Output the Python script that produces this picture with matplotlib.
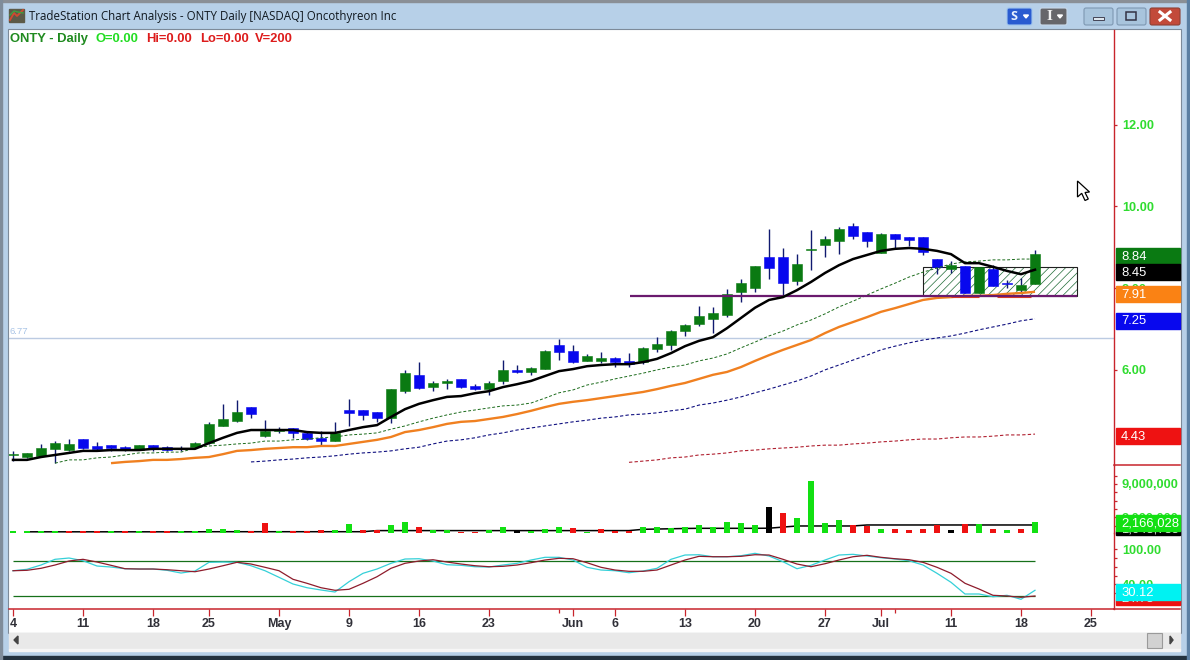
import numpy as np
import matplotlib
matplotlib.use("Agg")
import matplotlib.pyplot as plt
from matplotlib.patches import Rectangle, FancyBboxPatch, Polygon

opens = [3.92,3.87,3.90,4.07,4.04,4.31,4.14,4.16,4.11,4.04,4.16,4.11,4.07,4.11,4.21,4.63,4.75,5.09,4.38,4.51,
         4.58,4.46,4.34,4.26,5.02,5.02,4.97,4.82,5.48,5.88,5.58,5.68,5.78,5.61,5.53,5.73,6.00,5.95,6.02,6.61,
         6.46,6.22,6.22,6.29,6.22,6.19,6.51,6.61,6.95,7.12,7.25,7.34,7.90,8.00,8.76,8.76,8.17,8.92,9.05,9.15,
         9.52,9.37,8.86,9.32,9.25,9.25,8.71,8.47,8.54,7.88,8.47,8.12,7.95,8.10]
highs = [4.02,3.97,4.19,4.26,4.31,4.31,4.24,4.16,4.13,4.16,4.16,4.13,4.14,4.24,4.73,5.17,5.26,5.09,4.77,4.60,
         4.58,4.51,4.51,4.73,5.29,5.02,4.97,5.53,6.00,6.19,5.73,5.78,5.78,5.65,5.73,6.24,6.12,6.07,6.49,6.76,
         6.61,6.39,6.44,6.31,6.41,6.56,6.80,6.98,7.12,7.57,7.54,7.98,8.22,8.54,9.45,8.98,8.83,9.42,9.27,9.49,
         9.59,9.37,9.34,9.32,9.25,9.25,8.71,8.66,8.54,8.52,8.56,8.20,8.25,8.93]
lows = [3.77,3.85,3.87,3.73,4.02,4.07,4.02,4.02,4.02,4.03,4.02,4.02,4.02,4.09,4.19,4.63,4.73,4.82,4.36,4.46,
        4.34,4.29,4.16,4.26,4.63,4.77,4.73,4.70,5.44,5.53,5.48,5.53,5.56,5.51,5.39,5.65,5.92,5.88,6.02,6.24,
        6.17,6.22,6.17,6.07,6.07,6.14,6.44,6.49,6.83,7.08,6.90,7.29,7.66,7.90,8.22,7.81,8.07,8.44,8.76,8.83,
        9.20,9.00,8.85,8.98,9.03,8.81,8.34,8.37,7.88,7.88,8.05,8.00,7.90,8.10]
closes = [3.94,3.97,4.10,4.21,4.19,4.09,4.07,4.09,4.04,4.16,4.07,4.04,4.06,4.21,4.68,4.80,4.97,4.92,4.51,4.53,
          4.46,4.31,4.26,4.46,4.95,4.90,4.82,5.53,5.92,5.56,5.68,5.73,5.58,5.53,5.68,6.00,5.95,6.05,6.46,6.44,
          6.19,6.34,6.29,6.19,6.14,6.54,6.63,6.95,7.10,7.32,7.39,7.86,8.12,8.54,8.49,8.12,8.59,8.95,9.20,9.44,
          9.27,9.15,9.32,9.20,9.17,8.88,8.52,8.56,7.88,8.52,8.05,8.10,8.07,8.84]

ma_black = [3.80,3.80,3.87,3.92,3.97,4.02,4.02,4.04,4.04,4.04,4.07,4.07,4.07,4.07,4.21,4.34,4.46,4.53,4.53,4.53,
            4.53,4.48,4.46,4.46,4.53,4.60,4.65,4.85,5.04,5.17,5.26,5.34,5.36,5.43,5.48,5.58,5.65,5.73,5.85,5.97,
            6.02,6.09,6.12,6.14,6.14,6.19,6.27,6.41,6.58,6.71,6.80,7.02,7.27,7.52,7.71,7.78,7.95,8.15,8.37,8.56,
            8.71,8.81,8.91,8.96,8.98,8.96,8.91,8.83,8.61,8.61,8.52,8.42,8.34,8.45]
ma_green_start = 3
ma_green = [3.72,3.80,3.80,3.85,3.87,3.92,3.97,3.97,3.99,3.99,4.09,4.14,4.16,4.19,4.21,4.26,4.26,4.29,4.31,4.34,
            4.36,4.41,4.43,4.46,4.55,4.63,4.73,4.82,4.90,4.97,5.02,5.07,5.12,5.14,5.19,5.31,5.44,5.51,5.63,5.70,
            5.78,5.85,5.92,6.00,6.07,6.12,6.22,6.29,6.39,6.54,6.68,6.83,6.95,7.10,7.22,7.37,7.54,7.68,7.83,7.98,
            8.12,8.27,8.39,8.49,8.59,8.64,8.66,8.69,8.69,8.71,8.71]
ma_orange_start = 7
ma_orange = [3.72,3.75,3.77,3.80,3.80,3.82,3.85,3.87,3.94,4.02,4.04,4.07,4.09,4.11,4.11,4.14,4.14,4.19,4.24,4.29,
             4.36,4.48,4.53,4.60,4.68,4.73,4.75,4.80,4.85,4.92,5.00,5.09,5.17,5.22,5.26,5.31,5.36,5.41,5.46,5.53,
             5.61,5.68,5.78,5.88,5.95,6.07,6.22,6.36,6.49,6.61,6.73,6.90,7.05,7.17,7.29,7.42,7.51,7.61,7.71,7.76,
             7.78,7.81,7.81,7.83,7.86,7.88,7.91]
ma_blue_start = 17
ma_blue = [3.75,3.77,3.80,3.82,3.85,3.87,3.90,3.94,3.97,3.99,4.02,4.07,4.11,4.19,4.26,4.29,4.34,4.41,4.46,4.53,
           4.58,4.63,4.68,4.73,4.77,4.82,4.85,4.90,4.92,4.95,5.00,5.04,5.14,5.19,5.26,5.34,5.44,5.53,5.63,5.73,
           5.85,6.00,6.12,6.24,6.36,6.49,6.58,6.66,6.73,6.78,6.83,6.90,6.98,7.05,7.12,7.20,7.25]
ma_red_start = 44
ma_red = [3.74,3.77,3.80,3.85,3.87,3.92,3.94,3.97,4.02,4.04,4.07,4.09,4.11,4.14,4.16,4.16,4.19,4.21,4.24,4.26,
          4.29,4.31,4.31,4.34,4.36,4.36,4.38,4.41,4.41,4.43]

volume_m = [0.60,0.50,0.55,0.55,0.46,0.46,0.46,0.46,0.46,0.46,0.46,0.46,0.46,0.46,0.96,0.96,0.73,0.60,2.04,0.60,
            0.55,0.55,0.73,0.73,1.81,0.73,0.64,1.63,2.17,1.24,0.67,0.67,0.37,0.37,0.67,1.24,0.67,0.60,0.91,1.21,
            1.09,0.32,0.85,0.55,0.55,1.27,1.27,1.09,1.27,1.63,1.27,2.17,1.99,1.63,4.87,3.84,2.89,9.60,2.04,2.44,
            1.63,1.50,0.91,0.91,0.73,0.91,1.63,0.73,1.81,1.81,0.91,0.73,0.91,2.166]
volume_kind = "GGGGRRRGRGRRGGGGGRRGRRRGGRRGGRGGRRGGKGGGRGRRRGGGGGGGGGKRGGGGRRGRRRRKRGRGRG"
vol_ma_start = 1
vol_ma = [0.40]*13 + [0.42]*12 + [0.62]*19 + [0.85,0.90,0.95,1.00,1.03,1.03,1.03,1.03,1.03,1.05,1.25] + [1.45]*5 + [1.63]*13

stoch_k = [63.4,65.8,73.1,82.8,85.0,80.4,71.4,69.7,66.8,66.3,66.3,64.1,59.5,62.9,77.7,78.2,77.7,71.9,63.4,52.2,
           40.8,34.5,30.6,27.2,44.7,59.0,66.3,76.0,83.3,83.8,79.9,73.6,72.6,70.2,69.7,73.1,76.0,81.6,86.2,86.2,
           81.6,69.2,64.6,63.4,60.0,62.9,67.5,82.8,90.1,90.6,87.2,87.2,88.9,93.0,88.4,78.7,66.8,72.6,81.6,90.1,
           91.3,88.4,85.5,83.3,80.4,73.1,59.0,43.7,23.8,23.8,19.2,21.6,14.8,30.12]
stoch_d = [63.4,64.1,67.5,73.1,79.9,82.8,78.2,72.6,66.8,66.3,66.3,65.1,63.4,61.7,66.3,71.9,77.7,74.8,69.2,63.4,
           48.8,42.0,34.5,30.1,31.8,42.0,53.2,67.5,76.0,79.9,82.1,78.2,74.8,71.9,70.2,70.9,73.1,77.0,81.6,84.5,
           83.8,77.0,69.2,64.6,62.4,62.4,64.6,73.1,81.6,87.9,87.2,87.2,87.9,90.6,90.1,82.8,74.8,70.2,75.3,81.6,
           87.2,89.6,86.2,83.8,82.1,77.7,69.2,59.0,42.0,32.3,21.6,20.4,18.2,20.4]

date_labels = ["4","11","18","25","May","9","16","23","Jun","6","13","20","27","Jul","11","18","25"]
date_bars = [0,5,10,14,19,24,29,34,40,43,48,53,58,62,67,72,77]
extra_date_bars = [39,63]
price_ticks = [6,8,10,12]
volume_ticks = [3,9]
volume_minor = [1.5,4.5,6,7.5,10.5]
stoch_ticks = [40,100]
stoch_minor = [25,55,70,85]
stoch_levels = [80,20]
level_line = 6.77
support = 7.81
zone_top = 8.52
zone_start = 65
zone_end = 76
support_start = 44.07

W, H = 1190, 660
matplotlib.rcParams["hatch.linewidth"] = 0.5
fig = plt.figure(figsize=(W/100, H/100), dpi=100, facecolor="#B7D0E8")
TICKG = "#2FDC2F"
RED = "#C8242C"
SANS = "Liberation Sans"

def rect(l, t, r, b, **kw):
    return fig.add_axes([l/W, 1-b/H, (r-l)/W, (b-t)/H], **kw)

bg = rect(0, 0, W, H, zorder=-2)
bg.set_xlim(0, W); bg.set_ylim(H, 0); bg.axis("off")
fg = rect(0, 0, W, H, zorder=6)
fg.set_xlim(0, W); fg.set_ylim(H, 0); fg.axis("off"); fg.patch.set_alpha(0)

# window chrome
bg.add_patch(Rectangle((0, 0), W, 2, color="#8A8F96"))
bg.add_patch(Rectangle((0, 656), W, 4, color="#23323F"))
bg.add_patch(Rectangle((0, 0), 1.5, H, color="#7F8C9A"))
bg.add_patch(Rectangle((1187, 0), 3, H, color="#5B7FA3"))
bg.add_patch(Rectangle((8, 29), 1173, 604, fc="white", ec="#7D8A99", lw=0.8))
bg.add_patch(Rectangle((9, 633), 1171, 17, color="#E9E9E9"))
bg.add_patch(Rectangle((9, 649), 1171, 2, color="#F6F6F6"))
bg.add_patch(Rectangle((1147, 633), 15, 15, fc="#D2D2D2", ec="#9A9A9A", lw=0.8))
bg.add_patch(Polygon([[14, 640], [18, 636], [18, 644]], color="#444444"))
bg.add_patch(Polygon([[1173, 640], [1170, 636], [1170, 644]], color="#444444"))
# title icon
bg.add_patch(Rectangle((9, 9), 15, 13, color="#5C5A48"))
bg.plot([10, 14, 17, 23], [20, 13, 16, 10], color="#D04A30", lw=1.3)
bg.plot([10, 14, 18, 23], [15, 11, 12, 13], color="#3FA040", lw=1.0)
bg.text(29, 16.5, "TradeStation Chart Analysis - ONTY Daily [NASDAQ] Oncothyreon Inc", fontsize=8.3,
        family="Open Sans", color="#10181F", va="center", ha="left")
for l, r, c, e in [(1007, 1032, "#2A5BD0", "#9FC4EE"), (1040, 1067, "#66666A", "#C8D8E8"),
                   (1084, 1113, "#A8C4DC", "#7E98B2"), (1117, 1146, "#A8C4DC", "#7E98B2"),
                   (1150, 1180, "#C24A3A", "#8E4034")]:
    bg.add_patch(FancyBboxPatch((l+2, 10), r-l-4, 13, boxstyle="round,pad=2", fc=c, ec=e, lw=0.8))
bg.text(1014, 16.5, "S", color="#E8F0FF", fontsize=9, fontweight="bold", ha="center", va="center", family="Open Sans")
bg.text(1049, 16.5, "I", color="#F0F0F0", fontsize=11, fontweight="bold", ha="center", va="center", family="Liberation Serif")
for cx in (1026, 1060):
    bg.add_patch(Polygon([[cx-2.5, 15], [cx+2.5, 15], [cx, 18]], color="white"))
bg.add_patch(Rectangle((1093, 17), 11, 3, fc="#DDE6EE", ec="#445", lw=0.7))
bg.add_patch(Rectangle((1126, 12), 10, 8, fc="none", ec="#334", lw=1.1))
bg.plot([1160, 1170], [12, 20], color="white", lw=2.2)
bg.plot([1160, 1170], [20, 12], color="white", lw=2.2)

# header line
for x, s, c in [(10, "ONTY - Daily", "#1F8A1F"), (96, "O=0.00", "#22DD22"), (146, "Hi=0.00", "#DD1C1C"),
                (200, "Lo=0.00", "#DD1C1C"), (255, "V=200", "#DD1C1C")]:
    fg.text(x, 39, s, color=c, fontsize=9.4, fontweight="bold", family=SANS, va="center", ha="left")

XL = (9-13)/14
XR = (1114-13)/14
PX = 40.9

def pane(ax):
    ax.set_xlim(XL, XR)
    ax.patch.set_alpha(0)
    for s in ("left", "top", "bottom"):
        ax.spines[s].set_visible(False)
    ax.spines["right"].set_color(RED)
    ax.spines["right"].set_linewidth(1.0)
    ax.yaxis.tick_right()
    ax.tick_params(axis="y", which="both", length=2.4, width=0.9, color=RED, labelcolor=TICKG, pad=3.2, labelsize=9.2)
    ax.set_xticks([])

# price pane
ax = rect(9, 30, 1114, 465)
ax.set_ylim(12-(465-124.5)/PX, 12+(124.5-30)/PX)
pane(ax)
ax.set_yticks(price_ticks, [f"{v:.2f}" for v in price_ticks], family=SANS, fontweight="bold")
idx = np.arange(len(opens))
o, h, l_, c_ = map(np.array, (opens, highs, lows, closes))
up = c_ >= o
ax.axhline(level_line, color="#BCCBE2", lw=1.0, zorder=1)
ax.text(XL+0.05, level_line+0.07, f"{level_line:.2f}", color="#A9C4E6", fontsize=6.8, family=SANS, va="bottom", ha="left")
ax.add_patch(Rectangle((zone_start, support), zone_end-zone_start, zone_top-support, fill=False, hatch="////", ec="#1F6A36", lw=0, zorder=1.5))
ax.add_patch(Rectangle((zone_start, support), zone_end-zone_start, zone_top-support, fill=False, ec="#202020", lw=0.8, zorder=1.6))
ax.vlines(idx, l_, h, color="#101A70", lw=1.0, zorder=2)
ax.bar(idx, c_-o, bottom=o, width=0.72, color=["#0A7A12" if u else "#0808EE" for u in up],
       edgecolor=["#0A7A12" if u else "#0808EE" for u in up], lw=0.4, zorder=3)
def ma(vals, start, **kw):
    ax.plot(np.arange(start, start+len(vals)), vals, zorder=kw.pop("zorder", 4), **kw)
ma(ma_red, ma_red_start, color="#B02030", lw=0.8, dashes=(3, 2))
ma(ma_blue, ma_blue_start, color="#101080", lw=0.8, dashes=(3, 2))
ma(ma_green, ma_green_start, color="#1B6B1B", lw=0.7, dashes=(3, 2))
ma(ma_orange, ma_orange_start, color="#F08020", lw=1.7, solid_capstyle="butt")
ax.hlines(support, support_start, zone_end, color="#6A1A6E", lw=1.6, zorder=4.5)
ax.hlines([support-0.03]*2, [67, 70.3], [69, 72.7], color="#E04020", lw=0.8, zorder=4.4)
ma(ma_black, 0, color="black", lw=1.8, zorder=5)

# volume pane
vscale = 5.56
av = rect(9, 465, 1114, 533)
av.set_ylim(9+(484-533)/vscale, 9+(484-465)/vscale)
pane(av)
vbase = av.get_ylim()[0]
av.set_yticks(volume_ticks, [f"{v*1_000_000:,}" for v in volume_ticks], family=SANS, fontweight="bold")
av.set_yticks(volume_minor, minor=True)
av.plot(np.arange(vol_ma_start, vol_ma_start+len(vol_ma)), vol_ma, color="black", lw=1.1, zorder=2)
kcol = {"G": "#12E012", "R": "#EE1212", "K": "black"}
av.bar(idx, np.array(volume_m)-vbase, bottom=vbase, width=0.43, color=[kcol[k] for k in volume_kind], zorder=3)

# stochastic pane
sscale = 0.588
ast = rect(9, 533, 1114, 609)
ast.set_ylim(100-(609-549.2)/sscale, 100+(549.2-533)/sscale)
pane(ast)
ast.spines["bottom"].set_visible(True)
ast.spines["bottom"].set_color(RED)
ast.spines["bottom"].set_linewidth(1.1)
ast.set_yticks(stoch_ticks, [f"{v:.2f}" for v in stoch_ticks], family=SANS, fontweight="bold")
ast.set_yticks(stoch_minor, minor=True)
ast.hlines(stoch_levels, 0, len(idx)-1, color="#16701A", lw=0.9, zorder=1)
ast.plot(idx, stoch_k, color="#35D0D8", lw=0.9, zorder=2)
ast.plot(idx, stoch_d, color="#8E1C2C", lw=0.9, zorder=3)
ast.set_xticks(date_bars, date_labels, family=SANS, fontweight="bold", fontsize=9, color="#303038")
ast.set_xticks(extra_date_bars, minor=True)
ast.tick_params(axis="x", which="major", length=5, width=0.9, color=RED, pad=1.5, direction="out")
ast.tick_params(axis="x", which="minor", length=3, width=0.9, color=RED)

# axis lines to the right of the plot
fg.plot([1114, 1180], [609, 609], color=RED, lw=1.1)
fg.plot([1114, 1180], [465, 465], color=RED, lw=1.1)

# last value flags (later entries cover earlier ones, as in the reference)
flags = [(531, 535, 529, "black", "1,643,735"), (600, 605, 599, "#EE1212", "24.78"),
         (248, 264, 256, "#0A7A12", "8.84"), (264, 280, 272, "black", "8.45"), (286, 302, 294, "#FA8214", "7.91"),
         (313, 329, 321, "#0808EE", "7.25"), (428, 444, 436, "#EE1212", "4.43"), (515, 531, 523, "#12E012", "2,166,028"),
         (584, 600, 592, "#00F2F2", "30.12")]
for i, (t, b, cy, col, s) in enumerate(flags):
    z = 2 + i*0.1
    fg.add_patch(Rectangle((1116, t), 64, b-t, color=col, zorder=z))
    fg.text(1121, cy+0.5, s, color="white", fontsize=9.4, family=SANS, va="center", ha="left", zorder=z+0.05)

# mouse pointer
fg.add_patch(Polygon([[1077.5, 181], [1077.5, 197], [1081.7, 193.3], [1085, 200.5], [1088.3, 199], [1085, 192.5], [1089.5, 192]],
                     fc="white", ec="black", lw=0.9, closed=True, zorder=4))

fig.savefig("out.png", dpi=100, facecolor=fig.get_facecolor())
